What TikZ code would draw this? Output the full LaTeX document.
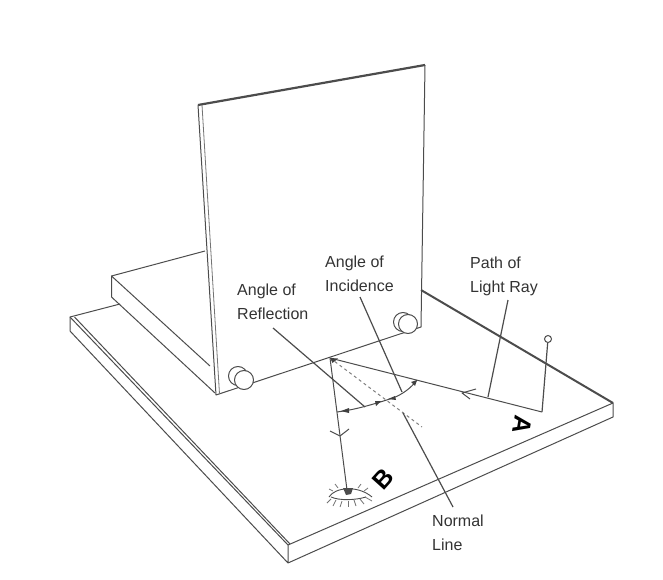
\documentclass[tikz,border=0pt]{standalone}
\usepackage{fontspec}
\setmainfont{Liberation Sans}
\tikzset{
 ln/.style={draw=black!70,line width=1pt,line join=round},
 thk/.style={draw=black!70,line width=2pt},
 thn/.style={draw=black!55,line width=0.8pt},
 lbl/.style={font=\fontsize{16}{24}\selectfont,text=black!80,align=left,inner sep=0pt,anchor=west},
 big/.style={font=\fontsize{25}{25}\selectfont\bfseries,text=black,inner sep=0pt},
}
\begin{document}
\begin{tikzpicture}[x=1pt,y=-1pt]
\useasboundingbox (0,0) rectangle (663,580);
% base
\coordinate (bTL) at (70,317);
\coordinate (bTLb) at (70,331);
\coordinate (bBm) at (288,545);
\coordinate (bBb) at (288,563);
\coordinate (bR) at (613,403);
\coordinate (bRb) at (613,417);
\draw[ln] (120,304) -- (bTL) -- (bTLb) -- (bBb) -- (bRb) -- (bR) -- (bBm) -- (bBb);
\draw[ln] (bTL) -- (bBm);
\draw[ln] (74.5,317) -- (290,544);
\draw[thk] (421,290) -- (bR);
% block
\coordinate (kT) at (111.5,276);
\coordinate (kB) at (111.5,297);
\draw[ln] (205,251) -- (kT) -- (kB) -- (215,393);
\draw[ln] (kT) -- (210,366);
% mirror
\coordinate (mTL) at (198,105);
\coordinate (mTR) at (425,65);
\coordinate (mBL) at (216,395);
\coordinate (mBR) at (421,327);
\draw[ln] (mTL) -- (mBL) -- (mBR) -- (mTR);
\draw[thn] (202,105) -- (219.5,394);
\draw[thk,line width=2.2pt] (mTL) -- (mTR);
% rollers
\draw[ln,fill=white] (238,376) circle (9.5);
\draw[ln,fill=white] (244,380) circle (9.5);
\draw[ln,fill=white] (403,322) circle (9.5);
\draw[ln,fill=white] (408,324) circle (9.5);
% rays
\coordinate (hit) at (542,412);
\coordinate (refl) at (330,358);
\coordinate (eye) at (347,490);
\node[draw=black!70,line width=1pt,fill=white,circle,minimum size=7pt,inner sep=0pt] (lamp) at (548,339) {};
\draw[ln,line width=1.2pt] (lamp) -- (hit);
\draw[ln] (hit) -- (refl) -- (eye);
\draw[ln,dashed,draw=black!50] (refl) -- (422,427);
\fill[black!75] (330,358) -- (338,358.5) -- (332.5,363) -- cycle;
% arrow barbs
\coordinate (a1) at (462,393);
\draw[ln] (476,389) -- (a1) -- (470,399);
\coordinate (a2) at (340,436);
\draw[ln] (330,431) -- (a2) -- (349,429);
% angle arc
\coordinate (arcL) at (337,412);
\coordinate (arcR) at (417,380);
\draw[ln] (arcL) .. controls (352,410) and (365,407) .. (393,398) .. controls (403,394) and (411,388) .. (arcR);
\fill[black!75] (341,411) -- (349,408) -- (349,413) -- cycle;
\fill[black!75] (381,401) -- (375,401) -- (376,406) -- cycle;
\fill[black!75] (388,399) -- (395,396) -- (396,400) -- cycle;
\fill[black!75] (417,380) -- (411,382) -- (415,386) -- cycle;
% eye
\draw[ln,line width=0.9pt] (329,497) .. controls (335,487) and (358,485) .. (372,497);
\draw[ln,line width=0.9pt] (331,497) .. controls (340,501) and (356,500) .. (366,497);
\fill[black!70] (343,488) -- (353,488) -- (351,494) -- (346,495) -- cycle;
\foreach \a/\b/\c/\d in {331/499/327/503,336/500/333/506,342/501/340/507,348/501/348/507,354/500/356/506,360/499/364/504,365/497/372/501,
  333/491/329/489,338/488/335/484,358/488/361/484,364/491/368/488}
  \draw[thn] (\a,\b) -- (\c,\d);
% labels
\node[lbl] (inc) at (325,274) {Angle of\\Incidence};
\node[lbl] (ref) at (237,301.5) {Angle of\\Reflection};
\node[lbl] (path) at (470,276) {Path of\\Light Ray};
\node[lbl] (norm) at (432,533) {Normal\\Line};
\node[big,rotate=-100] (A) at (522,424.5) {A};
\node[big,rotate=48] (B) at (383.5,479) {B};
% leaders
\draw[ln,line width=1.2pt] (360,297) -- (402,392);
\draw[ln,line width=1.2pt] (273,328) -- (365,407);
\draw[ln,line width=1.2pt] (508,300) -- (488,397);
\draw[ln,line width=1.2pt] (403,413) -- (453,507);
\end{tikzpicture}
\end{document}
